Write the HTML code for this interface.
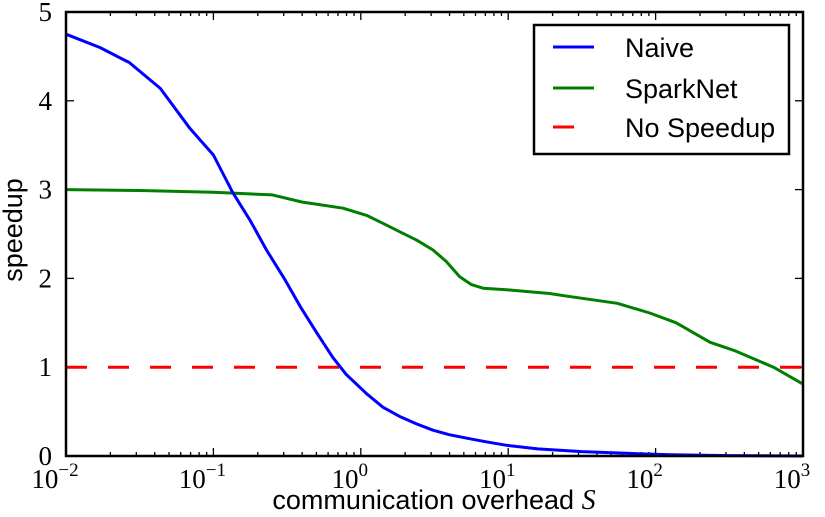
<!DOCTYPE html>
<html><head><meta charset="utf-8"><style>
html,body{margin:0;padding:0;background:#fff;}
svg{display:block;}
.tk{font-family:"Liberation Serif",serif;font-size:27px;fill:#000;}
.lb{font-family:"Liberation Sans",sans-serif;font-size:27px;fill:#000;}
</style></head><body>
<svg id="chart" width="825" height="517" xmlns="http://www.w3.org/2000/svg"></svg>
<script>
const naiveLogX = [-2,-1.77,-1.57,-1.36,-1.16,-1,-0.87,-0.75,-0.64,-0.52,-0.41,-0.3,-0.19,-0.1,0.04,0.15,0.27,0.38,0.49,0.6,0.72,0.85,0.99,1.2,1.5,1.8,2.1,2.5,3];
const naiveY    = [4.75,4.6,4.43,4.14,3.69,3.39,2.97,2.65,2.32,2.0,1.68,1.39,1.11,0.92,0.7,0.55,0.44,0.36,0.29,0.24,0.2,0.16,0.12,0.08,0.05,0.03,0.015,0.005,0.0];
const sparkLogX = [-2,-1.5,-1,-0.6,-0.4,-0.12,0.04,0.15,0.27,0.38,0.49,0.58,0.67,0.75,0.83,1,1.28,1.4,1.74,1.96,2.14,2.37,2.53,2.8,3];
const sparkY    = [3.0,2.99,2.97,2.94,2.86,2.79,2.71,2.62,2.52,2.43,2.32,2.19,2.02,1.93,1.89,1.87,1.83,1.8,1.72,1.61,1.5,1.28,1.19,1.0,0.81];
const baselineY = [1,1];
const xTickExp = [-2,-1,0,1,2,3];
const yTicks = [0,1,2,3,4,5];

const L=66,R=803,T=12,B=456;
const xs=lx=>L+(lx+2)/5*(R-L);
const ys=v=>B-v/5*(B-T);
const svg=document.getElementById('chart');
const NS='http://www.w3.org/2000/svg';
function mk(tag,attrs,parent){const e=document.createElementNS(NS,tag);for(const k in attrs)e.setAttribute(k,attrs[k]);(parent||svg).appendChild(e);return e;}

const tg=mk('g',{stroke:'#000','stroke-width':1.3});


for(let d=-2;d<3;d++){for(let m=1;m<10;m++){const x=xs(d+Math.log10(m));const len=m===1?8:4;
 mk('line',{x1:x,x2:x,y1:B,y2:B-len},tg);mk('line',{x1:x,x2:x,y1:T,y2:T+len},tg);}}
yTicks.forEach(v=>{const y=ys(v);mk('line',{x1:L,x2:L+8,y1:y,y2:y},tg);mk('line',{x1:R,x2:R-8,y1:y,y2:y},tg);});

yTicks.forEach(v=>{const t=mk('text',{x:52,y:ys(v)+9,'text-anchor':'end',class:'tk'});t.textContent=v;
 
 });
xTickExp.forEach(e=>{const t=mk('text',{x:xs(e)-11,y:488,'text-anchor':'middle',class:'tk'});
 
 
 t.textContent='10';const s=mk('tspan',{dy:-12,'font-size':19},t);s.textContent=(e<0?'\u2212':'')+Math.abs(e);});

function path(xa,ya){return xa.map((x,i)=>(i?'L':'M')+xs(x).toFixed(1)+','+ys(ya[i]).toFixed(1)).join('');}
const base=mk('line',{x1:xs(-2),x2:xs(3),y1:ys(baselineY[0]),y2:ys(baselineY[1]),stroke:'#ff0000','stroke-width':3,'stroke-dasharray':'21,21'});


const sp=mk('path',{d:path(sparkLogX,sparkY),fill:'none',stroke:'#007f00','stroke-width':3,'stroke-linejoin':'round'});


const nv=mk('path',{d:path(naiveLogX,naiveY),fill:'none',stroke:'#0000ff','stroke-width':3,'stroke-linejoin':'round'});



const fr=mk('rect',{x:L,y:T,width:R-L,height:B-T,fill:'none',stroke:'#000','stroke-width':2.5});



const yl=mk('text',{x:0,y:0,transform:'translate(22,230) rotate(-90)','text-anchor':'middle',class:'lb'});
yl.textContent='speedup';


const xl=mk('text',{x:434,y:509,'text-anchor':'middle',class:'lb'});
xl.textContent='communication overhead ';
const sv=mk('tspan',{'font-family':'Liberation Serif, serif','font-style':'italic','font-size':28},xl);sv.textContent='S';



const lg=mk('g',{});


mk('rect',{x:534,y:25,width:255,height:129,fill:'#fff',stroke:'#000','stroke-width':2.5},lg);
const entries=[['Naive','#0000ff',47,false],['SparkNet','#007f00',88,false],['No Speedup','#ff0000',127,true]];
entries.forEach(([n,c,y,d])=>{
 const g=mk('g',{},lg);
 
 
 mk('line',{x1:553,x2:d?574:594,y1:y,y2:y,stroke:c,'stroke-width':3},g);
 const t=mk('text',{x:625,y:y+10,class:'lb','font-size':27},g);t.textContent=n;});
</script>
</body></html>
